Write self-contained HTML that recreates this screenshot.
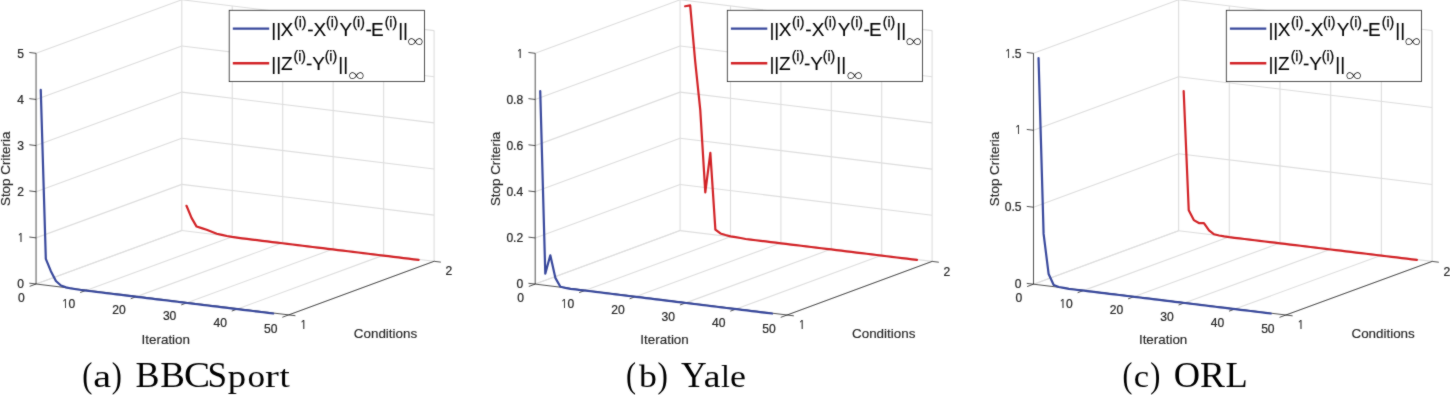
<!DOCTYPE html>
<html><head><meta charset="utf-8"><title>Stop criteria convergence</title>
<style>
html,body{margin:0;padding:0;background:#fff;}
svg{display:block;}
.t{font-family:'Liberation Sans', Arial, Helvetica, sans-serif;font-size:12.1px;fill:#262626;stroke:#262626;stroke-width:0.22px;}
.l{font-family:'Liberation Sans', Arial, Helvetica, sans-serif;font-size:13.4px;fill:#262626;stroke:#262626;stroke-width:0.15px;}
.g{font-family:'Liberation Sans', Arial, Helvetica, sans-serif;font-size:19px;fill:#000;stroke:#000;stroke-width:0.12px;}
.s{font-size:14px;stroke-width:0.25px;}
.inf{font-family:'Noto Serif CJK SC','Liberation Serif',serif;font-size:15.3px;fill:#000;stroke:none;}
.one{font-family:'NanumGothic','Liberation Sans',sans-serif;font-size:11.15px;}
.c{font-family:'Liberation Serif','Times New Roman',serif;font-size:34px;fill:#000;font-kerning:none;}
</style></head><body>
<svg width="1450" height="395" viewBox="0 0 1450 395">
<defs><filter id="soft" x="0" y="0" width="1450" height="395" filterUnits="userSpaceOnUse" color-interpolation-filters="sRGB"><feConvolveMatrix order="3" kernelMatrix="1 2 1 2 20 2 1 2 1" divisor="32" edgeMode="duplicate" preserveAlpha="true"/></filter></defs>
<g filter="url(#soft)">
<rect width="1450" height="395" fill="#fff"/>
<g>
<line x1="36.06" y1="284" x2="181.8" y2="230.5" stroke="#dddddd" stroke-width="1.1"/>
<line x1="36.06" y1="237.86" x2="181.8" y2="184.36" stroke="#dddddd" stroke-width="1.1"/>
<line x1="36.06" y1="191.72" x2="181.8" y2="138.22" stroke="#dddddd" stroke-width="1.1"/>
<line x1="36.06" y1="145.58" x2="181.8" y2="92.08" stroke="#dddddd" stroke-width="1.1"/>
<line x1="36.06" y1="99.44" x2="181.8" y2="45.94" stroke="#dddddd" stroke-width="1.1"/>
<line x1="36.06" y1="53.3" x2="181.8" y2="-0.2" stroke="#dddddd" stroke-width="1.1"/>
<line x1="181.8" y1="230.5" x2="181.8" y2="-0.2" stroke="#dddddd" stroke-width="1.1"/>
<line x1="181.8" y1="230.5" x2="434.1" y2="261.3" stroke="#dddddd" stroke-width="1.1"/>
<line x1="181.8" y1="184.36" x2="434.1" y2="215.16" stroke="#dddddd" stroke-width="1.1"/>
<line x1="181.8" y1="138.22" x2="434.1" y2="169.02" stroke="#dddddd" stroke-width="1.1"/>
<line x1="181.8" y1="92.08" x2="434.1" y2="122.88" stroke="#dddddd" stroke-width="1.1"/>
<line x1="181.8" y1="45.94" x2="434.1" y2="76.74" stroke="#dddddd" stroke-width="1.1"/>
<line x1="181.8" y1="-0.2" x2="434.1" y2="30.6" stroke="#dddddd" stroke-width="1.1"/>
<line x1="232.26" y1="236.66" x2="232.26" y2="5.96" stroke="#dddddd" stroke-width="1.1"/>
<line x1="282.72" y1="242.82" x2="282.72" y2="12.12" stroke="#dddddd" stroke-width="1.1"/>
<line x1="333.18" y1="248.98" x2="333.18" y2="18.28" stroke="#dddddd" stroke-width="1.1"/>
<line x1="383.64" y1="255.14" x2="383.64" y2="24.44" stroke="#dddddd" stroke-width="1.1"/>
<line x1="434.1" y1="261.3" x2="434.1" y2="30.6" stroke="#dddddd" stroke-width="1.1"/>
<line x1="36.06" y1="284" x2="181.8" y2="230.5" stroke="#dddddd" stroke-width="1.1"/>
<line x1="86.59" y1="290.18" x2="232.26" y2="236.66" stroke="#dddddd" stroke-width="1.1"/>
<line x1="137.12" y1="296.36" x2="282.72" y2="242.82" stroke="#dddddd" stroke-width="1.1"/>
<line x1="187.64" y1="302.54" x2="333.18" y2="248.98" stroke="#dddddd" stroke-width="1.1"/>
<line x1="238.17" y1="308.72" x2="383.64" y2="255.14" stroke="#dddddd" stroke-width="1.1"/>
<line x1="288.7" y1="314.9" x2="434.1" y2="261.3" stroke="#dddddd" stroke-width="1.1"/>
<line x1="36.06" y1="284" x2="36.06" y2="53.3" stroke="#262626" stroke-width="0.8"/>
<line x1="36.06" y1="284" x2="288.7" y2="314.9" stroke="#262626" stroke-width="0.8"/>
<line x1="288.7" y1="314.9" x2="434.1" y2="261.3" stroke="#262626" stroke-width="0.8"/>
<line x1="36.06" y1="284" x2="29.31" y2="283.17" stroke="#262626" stroke-width="0.8"/>
<text transform="translate(24.06,288.2) scale(1,1.1)" text-anchor="end" class="t">0</text>
<line x1="36.06" y1="237.86" x2="29.31" y2="237.03" stroke="#262626" stroke-width="0.8"/>
<text transform="translate(24.06,242.06) scale(1,1.1)" text-anchor="end" class="t"><tspan class="one">1</tspan></text>
<line x1="36.06" y1="191.72" x2="29.31" y2="190.89" stroke="#262626" stroke-width="0.8"/>
<text transform="translate(24.06,195.92) scale(1,1.1)" text-anchor="end" class="t">2</text>
<line x1="36.06" y1="145.58" x2="29.31" y2="144.75" stroke="#262626" stroke-width="0.8"/>
<text transform="translate(24.06,149.78) scale(1,1.1)" text-anchor="end" class="t">3</text>
<line x1="36.06" y1="99.44" x2="29.31" y2="98.61" stroke="#262626" stroke-width="0.8"/>
<text transform="translate(24.06,103.64) scale(1,1.1)" text-anchor="end" class="t">4</text>
<line x1="36.06" y1="53.3" x2="29.31" y2="52.47" stroke="#262626" stroke-width="0.8"/>
<text transform="translate(24.06,57.5) scale(1,1.1)" text-anchor="end" class="t">5</text>
<line x1="36.06" y1="284" x2="29.68" y2="286.35" stroke="#262626" stroke-width="0.8"/>
<text transform="translate(24.76,301.9) scale(1,1.1)" text-anchor="end" class="t">0</text>
<line x1="86.59" y1="290.18" x2="80.21" y2="292.53" stroke="#262626" stroke-width="0.8"/>
<text transform="translate(75.29,308.08) scale(1,1.1)" text-anchor="end" class="t"><tspan class="one">1</tspan>0</text>
<line x1="137.12" y1="296.36" x2="130.73" y2="298.71" stroke="#262626" stroke-width="0.8"/>
<text transform="translate(125.82,314.26) scale(1,1.1)" text-anchor="end" class="t">20</text>
<line x1="187.64" y1="302.54" x2="181.26" y2="304.89" stroke="#262626" stroke-width="0.8"/>
<text transform="translate(176.34,320.44) scale(1,1.1)" text-anchor="end" class="t">30</text>
<line x1="238.17" y1="308.72" x2="231.79" y2="311.07" stroke="#262626" stroke-width="0.8"/>
<text transform="translate(226.87,326.62) scale(1,1.1)" text-anchor="end" class="t">40</text>
<line x1="288.7" y1="314.9" x2="282.32" y2="317.25" stroke="#262626" stroke-width="0.8"/>
<text transform="translate(277.4,332.8) scale(1,1.1)" text-anchor="end" class="t">50</text>
<line x1="288.7" y1="314.9" x2="295.45" y2="315.73" stroke="#262626" stroke-width="0.8"/>
<text transform="translate(300,329) scale(1,1.1)" class="t"><tspan class="one">1</tspan></text>
<line x1="434.1" y1="261.3" x2="440.85" y2="262.13" stroke="#262626" stroke-width="0.8"/>
<text transform="translate(445.4,275.4) scale(1,1.1)" class="t">2</text>
<text transform="translate(165.78,343.85) scale(1,1.0)" text-anchor="middle" class="l">Iteration</text>
<text transform="translate(385.5,338.2) scale(1,1.0)" text-anchor="middle" class="l">Conditions</text>
<text transform="translate(9.66,168.85) rotate(-90) scale(1,1.0)" text-anchor="middle" class="l">Stop Criteria</text>
<polyline points="40.76,89.95 45.82,258.88 50.87,271.13 55.92,280.97 60.97,285.51 66.03,287.38 71.08,288.46 76.13,289.26 81.19,289.97 86.24,290.63 91.29,291.25 96.34,291.87 101.4,292.49 106.45,293.11 111.5,293.72 116.55,294.34 121.61,294.96 126.66,295.58 131.71,296.2 136.77,296.81 141.82,297.43 146.87,298.05 151.92,298.67 156.98,299.29 162.03,299.9 167.08,300.52 172.14,301.14 177.19,301.76 182.24,302.38 187.29,302.99 192.35,303.61 197.4,304.23 202.45,304.85 207.51,305.47 212.56,306.08 217.61,306.7 222.66,307.32 227.72,307.94 232.77,308.56 237.82,309.17 242.87,309.79 247.93,310.41 252.98,311.03 258.03,311.65 263.09,312.26 268.14,312.88 273.19,313.5" fill="none" stroke="#38489c" stroke-width="2.2" stroke-linejoin="round" stroke-linecap="round"/>
<polyline points="186.5,205.78 191.54,217.93 196.59,226.57 201.63,228.16 206.68,229.79 211.73,231.7 216.77,233.7 221.82,234.87 226.86,235.99 231.91,236.88 236.96,237.64 242,238.35 247.05,238.96 252.09,239.58 257.14,240.19 262.19,240.81 267.23,241.43 272.28,242.04 277.32,242.66 282.37,243.27 287.42,243.89 292.46,244.51 297.51,245.12 302.55,245.74 307.6,246.35 312.65,246.97 317.69,247.59 322.74,248.2 327.78,248.82 332.83,249.43 337.88,250.05 342.92,250.67 347.97,251.28 353.01,251.9 358.06,252.51 363.11,253.13 368.15,253.75 373.2,254.36 378.24,254.98 383.29,255.59 388.34,256.21 393.38,256.83 398.43,257.44 403.47,258.06 408.52,258.67 413.57,259.29 418.61,259.91" fill="none" stroke="#d22226" stroke-width="2.2" stroke-linejoin="round" stroke-linecap="round"/>
<rect x="229.2" y="10.3" width="195.2" height="71.3" fill="#fff" stroke="#262626" stroke-width="0.8"/>
<line x1="232.8" y1="28.6" x2="269.2" y2="28.6" stroke="#38489c" stroke-width="2.4"/>
<line x1="232.8" y1="63.3" x2="269.2" y2="63.3" stroke="#d22226" stroke-width="2.4"/>
<text class="g"><tspan x="271.35" y="35.8">||</tspan><tspan x="280.6" y="35.8">X</tspan><tspan x="294" y="26.7" class="s">(i)</tspan><tspan x="307.2" y="35.8">-</tspan><tspan x="313.6" y="35.8">X</tspan><tspan x="326" y="26.7" class="s">(i)</tspan><tspan x="339.6" y="35.8">Y</tspan><tspan x="352.4" y="26.7" class="s">(i)</tspan><tspan x="365.4" y="35.8">-</tspan><tspan x="371" y="35.8">E</tspan><tspan x="384.7" y="26.7" class="s">(i)</tspan><tspan x="398.15" y="35.8">||</tspan><tspan x="407.8" y="47.1" class="inf">&#8734;</tspan></text>
<text class="g"><tspan x="271.35" y="69.8">||</tspan><tspan x="281" y="69.8">Z</tspan><tspan x="293.6" y="60.7" class="s">(i)</tspan><tspan x="306" y="69.8">-</tspan><tspan x="312.2" y="69.8">Y</tspan><tspan x="324.7" y="60.7" class="s">(i)</tspan><tspan x="338.25" y="69.8">||</tspan><tspan x="348.8" y="81" class="inf">&#8734;</tspan></text>
<text y="386.8" class="c"><tspan x="82.17" style="font-size:36.5px" textLength="10.11" lengthAdjust="spacingAndGlyphs">(</tspan><tspan x="93.18" style="font-size:31.6px" textLength="17.87" lengthAdjust="spacingAndGlyphs">a</tspan><tspan x="111.82" style="font-size:36.5px" textLength="10.11" lengthAdjust="spacingAndGlyphs">)</tspan> <tspan x="135.41" style="font-size:35.0px" textLength="23.99" lengthAdjust="spacingAndGlyphs">B</tspan><tspan x="160.28" style="font-size:35.0px" textLength="24.67" lengthAdjust="spacingAndGlyphs">B</tspan><tspan x="184.05" style="font-size:35.0px" textLength="26.06" lengthAdjust="spacingAndGlyphs">C</tspan><tspan x="207.40" style="font-size:35.0px" textLength="19.53" lengthAdjust="spacingAndGlyphs">S</tspan><tspan x="227.76" style="font-size:31.6px" textLength="18.32" lengthAdjust="spacingAndGlyphs">p</tspan><tspan x="247.41" style="font-size:31.6px" textLength="17.58" lengthAdjust="spacingAndGlyphs">o</tspan><tspan x="265.02" style="font-size:31.6px" textLength="13.85" lengthAdjust="spacingAndGlyphs">r</tspan><tspan x="279.59" style="font-size:31.6px" textLength="10.28" lengthAdjust="spacingAndGlyphs">t</tspan></text>
</g>
<g>
<line x1="535.2" y1="284.1" x2="680.1" y2="230.6" stroke="#dddddd" stroke-width="1.1"/>
<line x1="535.2" y1="237.94" x2="680.1" y2="184.44" stroke="#dddddd" stroke-width="1.1"/>
<line x1="535.2" y1="191.78" x2="680.1" y2="138.28" stroke="#dddddd" stroke-width="1.1"/>
<line x1="535.2" y1="145.62" x2="680.1" y2="92.12" stroke="#dddddd" stroke-width="1.1"/>
<line x1="535.2" y1="99.46" x2="680.1" y2="45.96" stroke="#dddddd" stroke-width="1.1"/>
<line x1="535.2" y1="53.3" x2="680.1" y2="-0.2" stroke="#dddddd" stroke-width="1.1"/>
<line x1="680.1" y1="230.6" x2="680.1" y2="-0.2" stroke="#dddddd" stroke-width="1.1"/>
<line x1="680.1" y1="230.6" x2="932.1" y2="261.4" stroke="#dddddd" stroke-width="1.1"/>
<line x1="680.1" y1="184.44" x2="932.1" y2="215.24" stroke="#dddddd" stroke-width="1.1"/>
<line x1="680.1" y1="138.28" x2="932.1" y2="169.08" stroke="#dddddd" stroke-width="1.1"/>
<line x1="680.1" y1="92.12" x2="932.1" y2="122.92" stroke="#dddddd" stroke-width="1.1"/>
<line x1="680.1" y1="45.96" x2="932.1" y2="76.76" stroke="#dddddd" stroke-width="1.1"/>
<line x1="680.1" y1="-0.2" x2="932.1" y2="30.6" stroke="#dddddd" stroke-width="1.1"/>
<line x1="730.5" y1="236.76" x2="730.5" y2="5.96" stroke="#dddddd" stroke-width="1.1"/>
<line x1="780.9" y1="242.92" x2="780.9" y2="12.12" stroke="#dddddd" stroke-width="1.1"/>
<line x1="831.3" y1="249.08" x2="831.3" y2="18.28" stroke="#dddddd" stroke-width="1.1"/>
<line x1="881.7" y1="255.24" x2="881.7" y2="24.44" stroke="#dddddd" stroke-width="1.1"/>
<line x1="932.1" y1="261.4" x2="932.1" y2="30.6" stroke="#dddddd" stroke-width="1.1"/>
<line x1="535.2" y1="284.1" x2="680.1" y2="230.6" stroke="#dddddd" stroke-width="1.1"/>
<line x1="585.58" y1="290.28" x2="730.5" y2="236.76" stroke="#dddddd" stroke-width="1.1"/>
<line x1="635.96" y1="296.46" x2="780.9" y2="242.92" stroke="#dddddd" stroke-width="1.1"/>
<line x1="686.34" y1="302.64" x2="831.3" y2="249.08" stroke="#dddddd" stroke-width="1.1"/>
<line x1="736.72" y1="308.82" x2="881.7" y2="255.24" stroke="#dddddd" stroke-width="1.1"/>
<line x1="787.1" y1="315" x2="932.1" y2="261.4" stroke="#dddddd" stroke-width="1.1"/>
<line x1="535.2" y1="284.1" x2="535.2" y2="53.3" stroke="#262626" stroke-width="0.8"/>
<line x1="535.2" y1="284.1" x2="787.1" y2="315" stroke="#262626" stroke-width="0.8"/>
<line x1="787.1" y1="315" x2="932.1" y2="261.4" stroke="#262626" stroke-width="0.8"/>
<line x1="535.2" y1="284.1" x2="528.45" y2="283.27" stroke="#262626" stroke-width="0.8"/>
<text transform="translate(523.2,288.3) scale(1,1.1)" text-anchor="end" class="t">0</text>
<line x1="535.2" y1="237.94" x2="528.45" y2="237.11" stroke="#262626" stroke-width="0.8"/>
<text transform="translate(523.2,242.14) scale(1,1.1)" text-anchor="end" class="t">0.2</text>
<line x1="535.2" y1="191.78" x2="528.45" y2="190.95" stroke="#262626" stroke-width="0.8"/>
<text transform="translate(523.2,195.98) scale(1,1.1)" text-anchor="end" class="t">0.4</text>
<line x1="535.2" y1="145.62" x2="528.45" y2="144.79" stroke="#262626" stroke-width="0.8"/>
<text transform="translate(523.2,149.82) scale(1,1.1)" text-anchor="end" class="t">0.6</text>
<line x1="535.2" y1="99.46" x2="528.45" y2="98.63" stroke="#262626" stroke-width="0.8"/>
<text transform="translate(523.2,103.66) scale(1,1.1)" text-anchor="end" class="t">0.8</text>
<line x1="535.2" y1="53.3" x2="528.45" y2="52.47" stroke="#262626" stroke-width="0.8"/>
<text transform="translate(523.2,57.5) scale(1,1.1)" text-anchor="end" class="t"><tspan class="one">1</tspan></text>
<line x1="535.2" y1="284.1" x2="528.82" y2="286.45" stroke="#262626" stroke-width="0.8"/>
<text transform="translate(523.9,302) scale(1,1.1)" text-anchor="end" class="t">0</text>
<line x1="585.58" y1="290.28" x2="579.2" y2="292.63" stroke="#262626" stroke-width="0.8"/>
<text transform="translate(574.28,308.18) scale(1,1.1)" text-anchor="end" class="t"><tspan class="one">1</tspan>0</text>
<line x1="635.96" y1="296.46" x2="629.58" y2="298.81" stroke="#262626" stroke-width="0.8"/>
<text transform="translate(624.66,314.36) scale(1,1.1)" text-anchor="end" class="t">20</text>
<line x1="686.34" y1="302.64" x2="679.96" y2="304.99" stroke="#262626" stroke-width="0.8"/>
<text transform="translate(675.04,320.54) scale(1,1.1)" text-anchor="end" class="t">30</text>
<line x1="736.72" y1="308.82" x2="730.34" y2="311.17" stroke="#262626" stroke-width="0.8"/>
<text transform="translate(725.42,326.72) scale(1,1.1)" text-anchor="end" class="t">40</text>
<line x1="787.1" y1="315" x2="780.72" y2="317.35" stroke="#262626" stroke-width="0.8"/>
<text transform="translate(775.8,332.9) scale(1,1.1)" text-anchor="end" class="t">50</text>
<line x1="787.1" y1="315" x2="793.85" y2="315.83" stroke="#262626" stroke-width="0.8"/>
<text transform="translate(798.4,329.1) scale(1,1.1)" class="t"><tspan class="one">1</tspan></text>
<line x1="932.1" y1="261.4" x2="938.85" y2="262.23" stroke="#262626" stroke-width="0.8"/>
<text transform="translate(943.4,275.5) scale(1,1.1)" class="t">2</text>
<text transform="translate(664.55,343.95) scale(1,1.0)" text-anchor="middle" class="l">Iteration</text>
<text transform="translate(883.7,338.3) scale(1,1.0)" text-anchor="middle" class="l">Conditions</text>
<text transform="translate(499.6,168.9) rotate(-90) scale(1,1.0)" text-anchor="middle" class="l">Stop Criteria</text>
<polyline points="540.24,91.12 545.28,273.6 550.31,255.3 555.35,277.84 560.39,286.77 565.43,287.85 570.47,288.81 575.5,289.43 580.54,290.05 585.58,290.66 590.62,291.28 595.66,291.9 600.69,292.52 605.73,293.14 610.77,293.75 615.81,294.37 620.85,294.99 625.88,295.61 630.92,296.23 635.96,296.84 641,297.46 646.04,298.08 651.07,298.7 656.11,299.32 661.15,299.93 666.19,300.55 671.23,301.17 676.26,301.79 681.3,302.41 686.34,303.02 691.38,303.64 696.42,304.26 701.45,304.88 706.49,305.5 711.53,306.11 716.57,306.73 721.61,307.35 726.64,307.97 731.68,308.59 736.72,309.2 741.76,309.82 746.8,310.44 751.83,311.06 756.87,311.68 761.91,312.29 766.95,312.91 771.99,313.53" fill="none" stroke="#38489c" stroke-width="2.2" stroke-linejoin="round" stroke-linecap="round"/>
<polyline points="685.14,6.22 690.18,5.46 695.22,61.69 700.26,109.86 705.3,192.41 710.34,152.86 715.38,229.64 720.42,233.49 725.46,235.03 730.5,236.34 735.54,237.18 740.58,238.03 745.62,238.99 750.66,239.61 755.7,240.22 760.74,240.84 765.78,241.46 770.82,242.07 775.86,242.69 780.9,243.3 785.94,243.92 790.98,244.54 796.02,245.15 801.06,245.77 806.1,246.38 811.14,247 816.18,247.62 821.22,248.23 826.26,248.85 831.3,249.46 836.34,250.08 841.38,250.7 846.42,251.31 851.46,251.93 856.5,252.54 861.54,253.16 866.58,253.78 871.62,254.39 876.66,255.01 881.7,255.62 886.74,256.24 891.78,256.86 896.82,257.47 901.86,258.09 906.9,258.7 911.94,259.32 916.98,259.94" fill="none" stroke="#d22226" stroke-width="2.2" stroke-linejoin="round" stroke-linecap="round"/>
<rect x="727.3" y="10.3" width="195.2" height="71.3" fill="#fff" stroke="#262626" stroke-width="0.8"/>
<line x1="730.9" y1="28.6" x2="767.3" y2="28.6" stroke="#38489c" stroke-width="2.4"/>
<line x1="730.9" y1="63.3" x2="767.3" y2="63.3" stroke="#d22226" stroke-width="2.4"/>
<text class="g"><tspan x="769.45" y="35.8">||</tspan><tspan x="778.7" y="35.8">X</tspan><tspan x="792.1" y="26.7" class="s">(i)</tspan><tspan x="805.3" y="35.8">-</tspan><tspan x="811.7" y="35.8">X</tspan><tspan x="824.1" y="26.7" class="s">(i)</tspan><tspan x="837.7" y="35.8">Y</tspan><tspan x="850.5" y="26.7" class="s">(i)</tspan><tspan x="863.5" y="35.8">-</tspan><tspan x="869.1" y="35.8">E</tspan><tspan x="882.8" y="26.7" class="s">(i)</tspan><tspan x="896.25" y="35.8">||</tspan><tspan x="905.9" y="47.1" class="inf">&#8734;</tspan></text>
<text class="g"><tspan x="769.45" y="69.8">||</tspan><tspan x="779.1" y="69.8">Z</tspan><tspan x="791.7" y="60.7" class="s">(i)</tspan><tspan x="804.1" y="69.8">-</tspan><tspan x="810.3" y="69.8">Y</tspan><tspan x="822.8" y="60.7" class="s">(i)</tspan><tspan x="836.35" y="69.8">||</tspan><tspan x="846.9" y="81" class="inf">&#8734;</tspan></text>
<text y="386.8" class="c"><tspan x="625.98" style="font-size:36.5px" textLength="9.98" lengthAdjust="spacingAndGlyphs">(</tspan><tspan x="639.10" style="font-size:31.6px" textLength="17.86" lengthAdjust="spacingAndGlyphs">b</tspan><tspan x="657.40" style="font-size:36.5px" textLength="10.37" lengthAdjust="spacingAndGlyphs">)</tspan> <tspan x="681.05" style="font-size:35.0px" textLength="25.70" lengthAdjust="spacingAndGlyphs">Y</tspan><tspan x="703.82" style="font-size:31.6px" textLength="16.74" lengthAdjust="spacingAndGlyphs">a</tspan><tspan x="721.11" style="font-size:31.6px" textLength="8.88" lengthAdjust="spacingAndGlyphs">l</tspan><tspan x="730.05" style="font-size:31.6px" textLength="15.95" lengthAdjust="spacingAndGlyphs">e</tspan></text>
</g>
<g>
<line x1="1033.5" y1="284.2" x2="1178.6" y2="230.7" stroke="#dddddd" stroke-width="1.1"/>
<line x1="1033.5" y1="207.23" x2="1178.6" y2="153.73" stroke="#dddddd" stroke-width="1.1"/>
<line x1="1033.5" y1="130.27" x2="1178.6" y2="76.77" stroke="#dddddd" stroke-width="1.1"/>
<line x1="1033.5" y1="53.3" x2="1178.6" y2="-0.2" stroke="#dddddd" stroke-width="1.1"/>
<line x1="1178.6" y1="230.7" x2="1178.6" y2="-0.2" stroke="#dddddd" stroke-width="1.1"/>
<line x1="1178.6" y1="230.7" x2="1432.1" y2="261.4" stroke="#dddddd" stroke-width="1.1"/>
<line x1="1178.6" y1="153.73" x2="1432.1" y2="184.43" stroke="#dddddd" stroke-width="1.1"/>
<line x1="1178.6" y1="76.77" x2="1432.1" y2="107.47" stroke="#dddddd" stroke-width="1.1"/>
<line x1="1178.6" y1="-0.2" x2="1432.1" y2="30.5" stroke="#dddddd" stroke-width="1.1"/>
<line x1="1229.3" y1="236.84" x2="1229.3" y2="5.94" stroke="#dddddd" stroke-width="1.1"/>
<line x1="1280" y1="242.98" x2="1280" y2="12.08" stroke="#dddddd" stroke-width="1.1"/>
<line x1="1330.7" y1="249.12" x2="1330.7" y2="18.22" stroke="#dddddd" stroke-width="1.1"/>
<line x1="1381.4" y1="255.26" x2="1381.4" y2="24.36" stroke="#dddddd" stroke-width="1.1"/>
<line x1="1432.1" y1="261.4" x2="1432.1" y2="30.5" stroke="#dddddd" stroke-width="1.1"/>
<line x1="1033.5" y1="284.2" x2="1178.6" y2="230.7" stroke="#dddddd" stroke-width="1.1"/>
<line x1="1083.98" y1="290.36" x2="1229.3" y2="236.84" stroke="#dddddd" stroke-width="1.1"/>
<line x1="1134.46" y1="296.52" x2="1280" y2="242.98" stroke="#dddddd" stroke-width="1.1"/>
<line x1="1184.94" y1="302.68" x2="1330.7" y2="249.12" stroke="#dddddd" stroke-width="1.1"/>
<line x1="1235.42" y1="308.84" x2="1381.4" y2="255.26" stroke="#dddddd" stroke-width="1.1"/>
<line x1="1285.9" y1="315" x2="1432.1" y2="261.4" stroke="#dddddd" stroke-width="1.1"/>
<line x1="1033.5" y1="284.2" x2="1033.5" y2="53.3" stroke="#262626" stroke-width="0.8"/>
<line x1="1033.5" y1="284.2" x2="1285.9" y2="315" stroke="#262626" stroke-width="0.8"/>
<line x1="1285.9" y1="315" x2="1432.1" y2="261.4" stroke="#262626" stroke-width="0.8"/>
<line x1="1033.5" y1="284.2" x2="1026.75" y2="283.37" stroke="#262626" stroke-width="0.8"/>
<text transform="translate(1021.5,288.4) scale(1,1.1)" text-anchor="end" class="t">0</text>
<line x1="1033.5" y1="207.23" x2="1026.75" y2="206.4" stroke="#262626" stroke-width="0.8"/>
<text transform="translate(1021.5,211.43) scale(1,1.1)" text-anchor="end" class="t">0.5</text>
<line x1="1033.5" y1="130.27" x2="1026.75" y2="129.44" stroke="#262626" stroke-width="0.8"/>
<text transform="translate(1021.5,134.47) scale(1,1.1)" text-anchor="end" class="t"><tspan class="one">1</tspan></text>
<line x1="1033.5" y1="53.3" x2="1026.75" y2="52.47" stroke="#262626" stroke-width="0.8"/>
<text transform="translate(1021.5,57.5) scale(1,1.1)" text-anchor="end" class="t"><tspan class="one">1</tspan>.5</text>
<line x1="1033.5" y1="284.2" x2="1027.12" y2="286.55" stroke="#262626" stroke-width="0.8"/>
<text transform="translate(1022.2,302.1) scale(1,1.1)" text-anchor="end" class="t">0</text>
<line x1="1083.98" y1="290.36" x2="1077.6" y2="292.71" stroke="#262626" stroke-width="0.8"/>
<text transform="translate(1072.68,308.26) scale(1,1.1)" text-anchor="end" class="t"><tspan class="one">1</tspan>0</text>
<line x1="1134.46" y1="296.52" x2="1128.08" y2="298.87" stroke="#262626" stroke-width="0.8"/>
<text transform="translate(1123.16,314.42) scale(1,1.1)" text-anchor="end" class="t">20</text>
<line x1="1184.94" y1="302.68" x2="1178.56" y2="305.03" stroke="#262626" stroke-width="0.8"/>
<text transform="translate(1173.64,320.58) scale(1,1.1)" text-anchor="end" class="t">30</text>
<line x1="1235.42" y1="308.84" x2="1229.04" y2="311.19" stroke="#262626" stroke-width="0.8"/>
<text transform="translate(1224.12,326.74) scale(1,1.1)" text-anchor="end" class="t">40</text>
<line x1="1285.9" y1="315" x2="1279.52" y2="317.35" stroke="#262626" stroke-width="0.8"/>
<text transform="translate(1274.6,332.9) scale(1,1.1)" text-anchor="end" class="t">50</text>
<line x1="1285.9" y1="315" x2="1292.65" y2="315.83" stroke="#262626" stroke-width="0.8"/>
<text transform="translate(1297.2,329.1) scale(1,1.1)" class="t"><tspan class="one">1</tspan></text>
<line x1="1432.1" y1="261.4" x2="1438.85" y2="262.23" stroke="#262626" stroke-width="0.8"/>
<text transform="translate(1443.4,275.5) scale(1,1.1)" class="t">2</text>
<text transform="translate(1163.1,344) scale(1,1.0)" text-anchor="middle" class="l">Iteration</text>
<text transform="translate(1383.1,338.3) scale(1,1.0)" text-anchor="middle" class="l">Conditions</text>
<text transform="translate(998.9,168.95) rotate(-90) scale(1,1.0)" text-anchor="middle" class="l">Stop Criteria</text>
<polyline points="1038.55,58.11 1043.6,233.9 1048.64,274.08 1053.69,285.01 1058.74,287.01 1063.79,287.93 1068.84,288.86 1073.88,289.47 1078.93,290.09 1083.98,290.71 1089.03,291.32 1094.08,291.94 1099.12,292.55 1104.17,293.17 1109.22,293.79 1114.27,294.4 1119.32,295.02 1124.36,295.63 1129.41,296.25 1134.46,296.87 1139.51,297.48 1144.56,298.1 1149.6,298.71 1154.65,299.33 1159.7,299.95 1164.75,300.56 1169.8,301.18 1174.84,301.79 1179.89,302.41 1184.94,303.03 1189.99,303.64 1195.04,304.26 1200.08,304.87 1205.13,305.49 1210.18,306.11 1215.23,306.72 1220.28,307.34 1225.32,307.95 1230.37,308.57 1235.42,309.19 1240.47,309.8 1245.52,310.42 1250.56,311.03 1255.61,311.65 1260.66,312.27 1265.71,312.88 1270.76,313.5" fill="none" stroke="#38489c" stroke-width="2.2" stroke-linejoin="round" stroke-linecap="round"/>
<polyline points="1183.67,91.12 1188.74,210.26 1193.81,220.11 1198.88,223.03 1203.95,223.03 1209.02,230.27 1214.09,234.27 1219.16,235.5 1224.23,236.42 1229.3,237.19 1234.37,237.8 1239.44,238.41 1244.51,239.03 1249.58,239.64 1254.65,240.26 1259.72,240.87 1264.79,241.48 1269.86,242.1 1274.93,242.71 1280,243.33 1285.07,243.94 1290.14,244.55 1295.21,245.17 1300.28,245.78 1305.35,246.4 1310.42,247.01 1315.49,247.62 1320.56,248.24 1325.63,248.85 1330.7,249.47 1335.77,250.08 1340.84,250.69 1345.91,251.31 1350.98,251.92 1356.05,252.54 1361.12,253.15 1366.19,253.76 1371.26,254.38 1376.33,254.99 1381.4,255.61 1386.47,256.22 1391.54,256.83 1396.61,257.45 1401.68,258.06 1406.75,258.68 1411.82,259.29 1416.89,259.9" fill="none" stroke="#d22226" stroke-width="2.2" stroke-linejoin="round" stroke-linecap="round"/>
<rect x="1226.3" y="10.3" width="195.2" height="71.3" fill="#fff" stroke="#262626" stroke-width="0.8"/>
<line x1="1229.9" y1="28.6" x2="1266.3" y2="28.6" stroke="#38489c" stroke-width="2.4"/>
<line x1="1229.9" y1="63.3" x2="1266.3" y2="63.3" stroke="#d22226" stroke-width="2.4"/>
<text class="g"><tspan x="1268.45" y="35.8">||</tspan><tspan x="1277.7" y="35.8">X</tspan><tspan x="1291.1" y="26.7" class="s">(i)</tspan><tspan x="1304.3" y="35.8">-</tspan><tspan x="1310.7" y="35.8">X</tspan><tspan x="1323.1" y="26.7" class="s">(i)</tspan><tspan x="1336.7" y="35.8">Y</tspan><tspan x="1349.5" y="26.7" class="s">(i)</tspan><tspan x="1362.5" y="35.8">-</tspan><tspan x="1368.1" y="35.8">E</tspan><tspan x="1381.8" y="26.7" class="s">(i)</tspan><tspan x="1395.25" y="35.8">||</tspan><tspan x="1404.9" y="47.1" class="inf">&#8734;</tspan></text>
<text class="g"><tspan x="1268.45" y="69.8">||</tspan><tspan x="1278.1" y="69.8">Z</tspan><tspan x="1290.7" y="60.7" class="s">(i)</tspan><tspan x="1303.1" y="69.8">-</tspan><tspan x="1309.3" y="69.8">Y</tspan><tspan x="1321.8" y="60.7" class="s">(i)</tspan><tspan x="1335.35" y="69.8">||</tspan><tspan x="1345.9" y="81" class="inf">&#8734;</tspan></text>
<text y="386.8" class="c"><tspan x="1122.40" style="font-size:36.5px" textLength="9.85" lengthAdjust="spacingAndGlyphs">(</tspan><tspan x="1133.79" style="font-size:31.6px" textLength="15.27" lengthAdjust="spacingAndGlyphs">c</tspan><tspan x="1150.32" style="font-size:36.5px" textLength="10.11" lengthAdjust="spacingAndGlyphs">)</tspan> <tspan x="1173.86" style="font-size:35.0px" textLength="26.29" lengthAdjust="spacingAndGlyphs">O</tspan><tspan x="1200.07" style="font-size:35.0px" textLength="24.93" lengthAdjust="spacingAndGlyphs">R</tspan><tspan x="1225.40" style="font-size:35.0px" textLength="22.23" lengthAdjust="spacingAndGlyphs">L</tspan></text>
</g>
</g>
</svg>
</body></html>
